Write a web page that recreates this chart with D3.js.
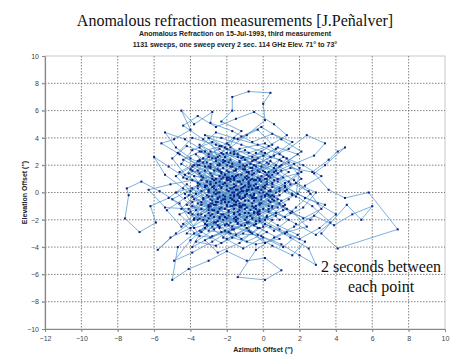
<!DOCTYPE html>
<html><head><meta charset="utf-8">
<script src="https://cdn.jsdelivr.net/npm/d3@7"></script>
<style>body{margin:0;background:#fff}svg{display:block}</style>
</head><body>
<script>
const title = "Anomalous refraction measurements [J.Peñalver]";
const subtitle1 = "Anomalous Refraction on 15-Jul-1993, third measurement";
const subtitle2 = "1131 sweeps, one sweep every 2 sec. 114 GHz Elev. 71° to 73°";
const xLabel = "Azimuth Offset (\u2033)";
const yLabel = "Elevation Offset (\u2033)";
const note = ["2 seconds between", "each point"];
const xTicks = [-12,-10,-8,-6,-4,-2,0,2,4,6,8,10];
const yTicks = [10,8,6,4,2,0,-2,-4,-6,-8,-10];
// sweep positions [azimuth, elevation] in arcsec
const sweeps = [
[-1.2,0.3],[-2.0,1.1],[-0.8,0.6],[-1.5,-0.7],[-2.6,0.2],[-1.9,1.5],[-0.6,1.0],[0.3,-0.2],[-0.9,-1.1],[-2.2,-0.5],[-3.1,0.8],[-2.4,2.0],[-1.1,1.7],[-0.3,0.4],[-1.4,-0.2],[-2.7,-1.3],[-1.8,-2.2],[-0.5,-1.4],[0.6,-0.6],[-0.4,0.9],
[-1.7,1.2],[-2.9,1.9],[-3.6,0.7],[-2.5,-0.4],[-1.3,-1.0],[-0.2,-2.1],[1.1,-1.3],[0.4,0.2],[-0.8,1.4],[-2.1,2.6],[-1.0,3.1],[0.2,2.2],[-0.7,0.9],[-1.9,0.1],[-3.0,-0.9],[-4.1,-0.2],[-3.3,1.1],[-2.2,0.6],[-1.1,-0.4],[0.1,0.5],
[1.0,1.6],[0.0,2.7],[-1.3,2.3],[-2.4,3.2],[-3.5,2.4],[-2.8,1.2],[-1.6,0.4],[-0.5,-0.6],[-1.5,-1.8],[-2.8,-2.5],[-3.9,-1.6],[-3.0,-0.3],[-1.8,0.8],[-0.9,-0.1],[0.5,-1.0],[1.6,-0.2],[0.8,1.0],[-0.4,1.9],[-1.6,2.8],[-2.7,1.6],
[-2.0,3.6],[-1.2,4.5],[-2.3,5.2],[-1.7,6.0],[-1.7,7.0],[-0.8,7.4],[0.4,7.3],[0.0,6.5],[0.1,5.3],[-0.9,4.2],[-1.8,3.3],[-0.6,2.6],[0.5,3.5],[-0.3,4.6],[-1.4,3.9],[-2.6,4.4],[-3.5,3.3],[-2.4,2.1],[-1.2,1.3],[-0.1,0.8],
[1.2,0.1],[2.1,1.0],[1.4,2.2],[0.3,1.5],[-0.9,0.2],[-2.0,-0.9],[-1.0,-2.0],[0.2,-2.9],[-0.9,-3.6],[-2.1,-2.8],[-3.2,-3.5],[-2.5,-4.4],[-1.3,-3.7],[-0.3,-2.6],[-1.6,-1.5],[-2.9,-0.8],[-4.0,0.1],[-4.8,1.2],[-3.8,2.0],[-2.6,1.0],
[-1.4,0.2],[-0.2,-0.9],[0.9,-2.0],[1.8,-1.1],[2.6,-0.1],[1.7,0.9],[0.6,1.8],[-0.6,2.3],[-1.8,1.9],[-3.0,2.8],[-4.2,3.4],[-5.0,2.5],[-4.3,1.3],[-3.2,0.5],[-2.1,-0.3],[-1.0,-1.2],[-2.2,-2.0],[-3.4,-1.2],[-4.4,-2.3],[-3.5,-3.2],
[-4.6,-0.8],[-5.7,0.1],[-6.7,0.8],[-7.5,0.3],[-7.4,-0.2],[-7.6,-1.9],[-6.8,-2.9],[-5.9,-2.2],[-6.2,-1.0],[-5.2,-0.4],[-4.2,0.6],[-3.3,-0.4],[-2.3,0.4],[-1.2,-0.5],[-0.1,0.2],[1.0,-0.6],[0.2,-1.7],[-0.9,-2.6],[-2.0,-3.4],[-3.1,-2.4],
[-2.4,-1.2],[-1.3,-0.3],[-0.2,0.9],[0.9,1.9],[1.9,2.8],[0.8,3.3],[-0.3,2.5],[-1.5,1.6],[-2.6,0.7],[-3.7,-0.1],[-4.5,-1.2],[-3.6,-2.0],[-2.5,-1.4],[-1.4,-2.3],[-0.3,-1.5],[0.8,-2.4],[1.9,-3.1],[1.1,-4.0],[0.0,-3.3],[-1.1,-4.1],
[-2.2,-3.3],[-1.5,-2.1],[-0.4,-1.0],[0.7,0.0],[1.8,0.7],[2.9,0.0],[2.2,-1.1],[1.2,-1.8],[0.0,-1.2],[-1.1,-0.4],[-2.3,0.3],[-3.4,1.2],[-4.5,2.1],[-3.9,3.1],[-2.8,3.7],[-1.6,3.0],[-0.5,2.0],[0.6,2.7],[1.6,3.7],[0.5,4.3],
[-0.6,3.7],[-1.7,4.5],[-2.9,5.1],[-2.8,5.9],[-3.8,5.0],[-4.5,6.0],[-4.0,4.6],[-4.9,3.9],[-5.6,3.6],[-4.6,2.8],[-3.5,2.0],[-2.3,1.4],[-1.2,0.6],[-0.1,-0.3],[1.1,-1.0],[2.2,-1.9],[3.2,-1.2],[2.5,0.1],[1.4,0.8],[0.3,1.2],
[1.5,1.8],[2.7,1.5],[3.6,2.4],[4.1,3.0],[4.5,3.3],[3.4,2.0],[2.8,1.4],[3.6,0.2],[4.5,-0.4],[5.8,0.0],[7.4,-2.7],[4.1,-4.1],[3.2,-3.0],[4.6,-0.9],[5.4,-2.0],[6.0,-1.0],[4.9,-1.6],[3.9,-2.4],[2.8,-1.7],[1.7,-2.5],
[0.6,-3.3],[-0.4,-4.2],[-1.4,-6.2],[0.1,-6.4],[1.0,-5.7],[0.1,-4.8],[-0.9,-5.0],[-2.0,-4.3],[-3.0,-5.0],[-4.1,-5.6],[-5.0,-6.4],[-4.7,-4.0],[-3.8,-3.0],[-2.7,-2.2],[-1.6,-1.2],[-0.5,-0.2],[0.5,0.7],[1.4,1.5],[0.4,2.3],[-0.8,1.5],
[-1.9,0.9],[-3.0,0.2],[-2.1,-0.7],[-1.0,-1.5],[0.1,-2.3],[1.2,-3.0],[2.3,-3.6],[1.6,-4.6],[0.5,-3.9],[-0.6,-3.0],[-1.7,-2.5],[-2.8,-3.2],[-3.9,-4.0],[-3.1,-2.1],[-2.0,-1.0],[-0.9,-0.1],[0.2,0.8],[1.3,0.2],[0.4,-0.7],[-0.7,-1.3],
[-1.8,-0.4],[-2.9,0.6],[-3.9,1.6],[-3.0,2.6],[-1.9,2.2],[-0.8,1.1],[0.3,0.1],[-0.6,-0.8],[-1.7,0.0],[-2.8,-0.6],[-3.9,0.3],[-5.0,-0.5],[-4.1,-1.5],[-3.0,-1.9],[-1.9,-2.9],[-0.8,-2.2],[0.3,-1.4],[1.4,-0.5],[2.3,0.5],[3.2,1.2],
[2.2,2.0],[1.1,2.6],[0.0,1.6],[-1.1,2.0],[-2.2,2.8],[-3.3,3.9],[-4.4,4.9],[-3.6,5.6],[-2.6,4.8],[-1.5,5.4],[-0.5,5.9],[0.6,5.0],[1.3,4.2],[0.3,3.4],[-0.8,2.9],[-2.0,3.2],[-3.1,2.2],[-4.2,1.0],[-5.2,1.9],[-6.0,2.6],
[-5.4,1.3],[-4.4,0.3],[-3.4,-0.7],[-2.3,-1.6],[-1.2,-2.4],[-0.1,-3.2],[1.0,-3.8],[2.0,-4.6],[2.9,-5.3],[2.5,-4.1],[1.5,-3.3],[0.4,-2.5],[-0.7,-1.7],[-1.8,-1.0],[-2.9,-1.7],[-4.0,-2.6],[-5.1,-3.3],[-5.8,-4.2],[-4.8,-3.0],[-3.8,-2.0],
[-2.7,-0.9],[-1.6,0.0],[-0.5,0.9],[0.6,1.5],[1.7,2.1],[2.8,2.7],[3.4,3.6],[2.4,4.2],[1.4,3.2],[0.4,2.6],[-0.7,1.8],[-1.8,1.0],[-2.9,1.8],[-4.0,2.5],[-4.8,3.3],[-5.4,4.4],[-4.3,3.9],[-3.2,3.0],[-2.1,2.3],[-1.0,1.7],
[0.1,1.0],[1.2,0.4],[2.3,-0.4],[3.4,-0.9],[2.6,-2.0],[1.5,-1.5],[0.5,-0.5],[-0.6,0.3],[-1.7,-0.5],[-2.8,-1.3],[-3.8,-0.5],[-2.7,0.3],[-1.6,1.1],[-0.5,0.5],[0.6,-0.3],[-0.5,-1.1],[-1.6,-1.9],[-2.7,-2.7],[-3.7,-3.6],[-2.6,-3.9],
[-1.5,-3.1],[-0.4,-2.3],[0.7,-1.5],[1.8,-2.3],[2.9,-3.1],[3.7,-2.2],[2.7,-1.0],[1.6,-0.1],[0.5,0.6],[-0.6,1.3],[-1.7,2.1],[-2.8,2.5],[-3.9,1.9],[-2.8,1.0],[-1.7,0.3],[-0.6,-0.4],[0.5,-1.1],[-0.6,-1.9],[-1.7,-2.7],[-2.8,-3.6],
[-3.9,-4.4],[-4.9,-5.0],[-4.0,-3.5],[-3.2,-2.6],[-2.1,-1.8],[-1.0,-0.9],[0.1,-0.2],[1.2,0.7],[0.1,1.5],[-1.0,2.4],[-2.1,3.3],[-3.2,4.2],[-2.3,4.0],[-1.2,3.5],[-0.1,3.0],[1.0,2.3],[2.1,1.5],[1.2,0.5],[0.1,-0.3],[-1.0,0.5],
[-2.1,1.3],[-3.2,0.4],[-4.3,-0.4],[-5.3,-1.3],[-4.5,-2.5],[-3.4,-1.6],[-2.3,-0.8],[-1.2,0.1],[-0.1,1.2],[1.0,2.0],[2.1,3.0],[1.0,3.9],[-0.1,4.8],[-1.2,4.1],[-2.3,3.4],[-3.4,3.0],[-2.5,2.0],[-1.4,1.3],[-0.3,0.3],[0.8,-0.5],
[-0.3,-1.4],[-1.4,-2.2],[-2.5,-1.5],[-3.6,-0.8],[-2.5,0.0],[-1.4,0.8],[-0.3,1.6],[0.8,0.8],[1.9,-0.1],[3.0,-0.8],[4.0,-1.6],[3.1,-2.6],[2.0,-3.4],[0.9,-2.7],[-0.2,-1.9],[-1.3,-1.1],[-2.4,-0.3],[-3.5,0.6],[-4.6,1.5],[-3.5,2.3],
[-2.4,1.6],[-1.3,0.8],[-0.2,0.0],[0.9,-0.8],[-0.2,-1.6],[-1.3,-0.8],[-2.4,-1.8],[-3.5,-2.8],[-2.4,-2.5],[-1.3,-1.6],[-0.2,-0.8],[0.9,0.1],[-0.2,1.0],[-1.3,1.9],[-2.4,2.7],[-3.5,3.5],[-2.6,2.5],[-1.5,1.7],[-0.4,2.4],[0.7,3.2],
[0.3,2.1],[-0.9,1.2],[-1.4,2.6],[-2.9,3.0],[-2.2,1.8],[-3.4,0.9],[-2.0,0.5],[-1.3,-0.4],[-2.6,-0.9],[-3.3,-2.0],[-1.9,-1.7],[-0.7,-2.9],[-1.2,-1.1],[-0.1,-0.5],[-0.8,0.7],[-2.3,1.0],[-3.8,1.2],[-3.1,-0.2],[-1.6,-0.6],[-2.0,0.9],
[-0.9,2.0],[0.4,1.1],[-0.5,-0.1],[-1.9,-1.3],[-3.0,-1.0],[-3.6,0.3],[-2.1,1.3],[-1.1,0.9],[-1.8,-0.2],[-0.3,-1.6],[0.8,-1.1],[-0.6,-0.3],[-2.4,0.5],[-3.2,1.9],[-1.8,2.4],[-0.5,1.4],[-1.5,0.2],[-2.8,-0.3],[-2.0,-1.9],[-0.8,-1.5],
[0.5,-2.0],[-0.3,-3.1],[-1.8,-3.0],[-3.0,-2.8],[-2.2,-1.6],[-1.0,-0.6],[0.2,-0.1],[1.5,0.6],[0.7,1.6],[-0.7,2.1],[-1.9,3.5],[-3.0,4.0],[-2.5,2.6],[-1.6,1.6],[-2.9,0.6],[-4.2,-0.9],[-3.0,-1.3],[-1.7,-1.0],[-0.6,0.2],[0.6,0.9],
[1.9,1.4],[0.9,0.3],[-0.4,-0.4],[-1.3,0.8],[-2.5,1.7],[-3.7,2.8],[-2.9,1.4],[-1.6,0.9],[-0.8,-0.6],[-2.1,-1.2],[-3.5,-1.9],[-4.2,-3.0],[-2.9,-3.3],[-1.6,-2.7],[-0.6,-1.9],[0.6,-2.8],[1.4,-2.0],[0.3,-1.0],[-1.0,-0.2],[-2.3,-0.6],
[-3.1,0.5],[-4.4,1.1],[-3.6,2.3],[-2.3,2.9],[-1.2,2.5],[0.1,2.9],[-0.2,1.5],[-1.6,1.0],[-2.7,0.0],[-1.5,-0.9],[-0.2,-1.3],[-0.9,-2.2],[-2.4,-2.6],[-3.6,-1.6],[-2.6,-0.7],[-1.1,0.1],[0.2,0.6],[-0.6,1.8],[-2.0,2.0],[-3.3,2.5],
[-4.0,1.7],[-2.7,0.9],[-1.7,1.9],[-0.4,2.9],[0.9,2.4],[0.2,1.0],[-1.2,0.3],[-2.6,-0.1],[-3.9,-0.7],[-3.2,-2.3],[-1.9,-2.4],[-1.2,-3.4],[0.0,-2.5],[-0.4,-1.2],[-1.7,-0.5],[-3.0,0.1],[-2.2,1.1],[-0.9,1.0],[0.4,0.1],[1.2,-0.9],
[0.1,-2.0],[-1.3,-1.6],[-2.5,-2.1],[-3.8,-2.6],[-4.6,-1.6],[-3.4,-0.9],[-2.2,-0.2],[-0.8,0.4],[0.5,1.3],[1.3,2.5],[0.1,3.6],[-1.3,3.2],[-2.2,2.4],[-1.0,1.9],[-2.4,1.2],[-3.6,1.6],[-3.0,0.0],[-1.9,-0.7],[-0.6,-1.0],[0.7,-1.7],
[-0.5,-2.4],[-1.4,-1.4],[-2.7,-1.8],[-3.9,-1.0],[-4.8,0.0],[-3.6,0.5],[-2.4,0.0],[-1.0,-0.3],[0.1,0.3],[-0.9,1.5],[-2.2,2.2],[-3.5,3.0],[-4.4,2.4],[-3.2,1.6],[-1.9,1.1],[-0.6,1.6],[0.7,2.0],[-0.4,0.6],[-1.6,-0.3],[-2.9,-1.0],
[-2.1,-2.4],[-0.9,-1.8],[0.3,-1.2],[-0.7,-0.2],[-2.0,0.2],[-3.3,-0.5],[-2.8,-1.6],[-1.5,-2.0],[-0.2,-2.6],[0.9,-3.4],[-0.4,-3.8],[-1.7,-3.3],[-2.5,-2.4],[-1.3,-1.3],[-0.1,-0.8],[-1.1,0.4],[-2.4,0.8],[-3.5,1.4],[-2.6,2.3],[-1.3,2.2],
[-0.1,1.9],[1.1,1.1],[0.0,0.4],[-1.4,-0.1],[-2.3,-1.1],[-3.7,-1.3],[-4.3,-0.1],[-3.1,0.8],[-1.8,0.3],[-0.5,-0.4],[0.9,-0.2],[0.2,1.3],[-1.1,2.6],[-2.4,3.4],[-3.3,2.2],[-2.0,1.6],[-0.8,0.8],[-1.6,-0.9],[-3.0,-1.5],[-2.3,-2.9],
[-1.0,-2.4],[0.2,-1.8],[1.3,-1.2],[0.4,-0.3],[-0.9,0.1],[-2.1,0.7],[-3.4,0.1],[-2.5,-0.7],[-1.2,-1.0],[0.0,0.0],[-1.0,1.1],[-2.3,1.5],[-3.6,2.0],[-4.7,2.9],[-3.9,4.0],[-2.6,3.5],[-1.4,2.8],[-0.2,2.2],[-1.5,1.2],[-2.8,0.4],
[-3.9,-0.3],[-3.0,-1.1],[-1.6,-1.6],[-0.4,-2.1],[-1.1,-3.0],[-2.3,-3.7],[-3.4,-2.9],[-2.4,-1.9],[-1.1,-0.9],[0.3,-0.6],[1.6,-1.4],[2.4,-2.5],[1.3,-2.9],[0.1,-3.7],[-0.8,-2.8],[-2.0,-2.3],[-3.2,-1.7],[-2.1,-0.5],[-0.8,0.2],[0.5,0.4],
[1.8,-0.3],[2.0,1.8],[0.9,2.8],[-0.3,3.5],[-1.6,4.0],[-2.0,2.9],[-3.0,1.9],[-4.1,1.4],[-2.9,0.8],[-1.6,0.6],[-0.3,1.1],[-1.3,0.0],[-2.5,-0.5],[-3.8,-1.9],[-2.6,-2.2],[-1.4,-1.9],[-0.2,-1.4],[-1.4,-0.6],[-2.7,0.5],[-3.9,0.9],
[-5.1,0.6],[-6.3,0.2],[-5.4,-1.1],[-4.1,-1.2],[-2.9,-0.5],[-1.6,-0.2],[-0.4,0.3],[0.8,1.4],[-0.5,2.4],[-1.8,2.9],[-2.9,2.1],[-2.0,1.0],[-0.7,0.5],[0.5,-0.2],[-0.5,-1.5],[-1.9,-1.4],[-3.1,-2.4],[-4.0,-1.4],[-2.8,-0.8],[-1.5,0.5]
];

(function () {
const W = 474, H = 355;
const pL = 45, pR = 445, pT = 56, pB = 329;
const svg = d3.select("body").append("svg").attr("width", W).attr("height", H);
const x = d3.scaleLinear().domain([-12, 10]).range([pL, pR]);
const y = d3.scaleLinear().domain([-10, 10]).range([pB, pT]);

svg.append("text").attr("x", 235).attr("y", 26).attr("text-anchor", "middle")
  .attr("font-family", "Liberation Serif, Times New Roman, serif").attr("font-size", 16).attr("fill", "#111").text(title);
svg.append("text").attr("x", 235).attr("y", 36).attr("text-anchor", "middle")
  .attr("font-family", "Liberation Sans, Arial, sans-serif").attr("font-weight", "bold").attr("font-size", 7).attr("fill", "#222").text(subtitle1);
svg.append("text").attr("x", 235).attr("y", 47).attr("text-anchor", "middle")
  .attr("font-family", "Liberation Sans, Arial, sans-serif").attr("font-weight", "bold").attr("font-size", 7).attr("fill", "#222").text(subtitle2);

svg.append("rect").attr("x", pL).attr("y", pT).attr("width", pR - pL).attr("height", pB - pT)
  .attr("fill", "none").attr("stroke", "#c8c8c8").attr("stroke-width", 1);

const g = svg.append("g");
g.selectAll(".gx").data(xTicks.filter(t => t > -12 && t < 10)).join("line")
  .attr("x1", d => x(d)).attr("x2", d => x(d)).attr("y1", pT).attr("y2", pB + 3)
  .attr("stroke", "#666").attr("stroke-width", 0.8).attr("stroke-dasharray", "1.5,1.5");
g.selectAll(".gy").data(yTicks.filter(t => t > -10 && t < 10)).join("line")
  .attr("x1", pL - 3).attr("x2", pR).attr("y1", d => y(d)).attr("y2", d => y(d))
  .attr("stroke", "#666").attr("stroke-width", 0.8).attr("stroke-dasharray", "1.5,1.5");

const xAxis = svg.append("g").attr("transform", `translate(0,${pB})`)
  .call(d3.axisBottom(x).tickValues(xTicks).tickSize(3).tickPadding(4).tickSizeOuter(0));
const yAxis = svg.append("g").attr("transform", `translate(${pL},0)`)
  .call(d3.axisLeft(y).tickValues(yTicks).tickSize(3).tickPadding(3).tickSizeOuter(0));
[xAxis, yAxis].forEach(a => {
  a.select(".domain").attr("stroke", "#888").attr("stroke-width", 1.2);
  a.selectAll(".tick line").attr("stroke", "#888");
  a.selectAll("text").attr("font-family", "Liberation Sans, Arial, sans-serif").attr("font-size", 7).attr("fill", "#444");
});

svg.append("text").attr("x", 263).attr("y", 352).attr("text-anchor", "middle")
  .attr("font-family", "Liberation Sans, Arial, sans-serif").attr("font-weight", "bold").attr("font-size", 7).attr("fill", "#222").text(xLabel);
svg.append("text").attr("transform", `translate(27,${y(0)}) rotate(-90)`).attr("text-anchor", "middle")
  .attr("font-family", "Liberation Sans, Arial, sans-serif").attr("font-weight", "bold").attr("font-size", 7).attr("fill", "#222").text(yLabel);

const line = d3.line().x(d => x(d[0])).y(d => y(d[1]));
svg.append("path").datum(sweeps).attr("d", line).attr("fill", "none")
  .attr("stroke", "#4b93c9").attr("stroke-width", 0.8).attr("stroke-opacity", 0.9).attr("stroke-linejoin", "round");
svg.append("g").selectAll("rect").data(sweeps).join("rect")
  .attr("x", d => x(d[0]) - 1).attr("y", d => y(d[1]) - 1).attr("width", 2).attr("height", 2)
  .attr("fill", "#0d1d85");

note.forEach((t, i) => {
  svg.append("text").attr("x", 381).attr("y", 272 + i * 20).attr("text-anchor", "middle")
    .attr("font-family", "Liberation Serif, Times New Roman, serif").attr("font-size", 16).attr("fill", "#111").text(t);
});
})();
</script>
</body></html>
